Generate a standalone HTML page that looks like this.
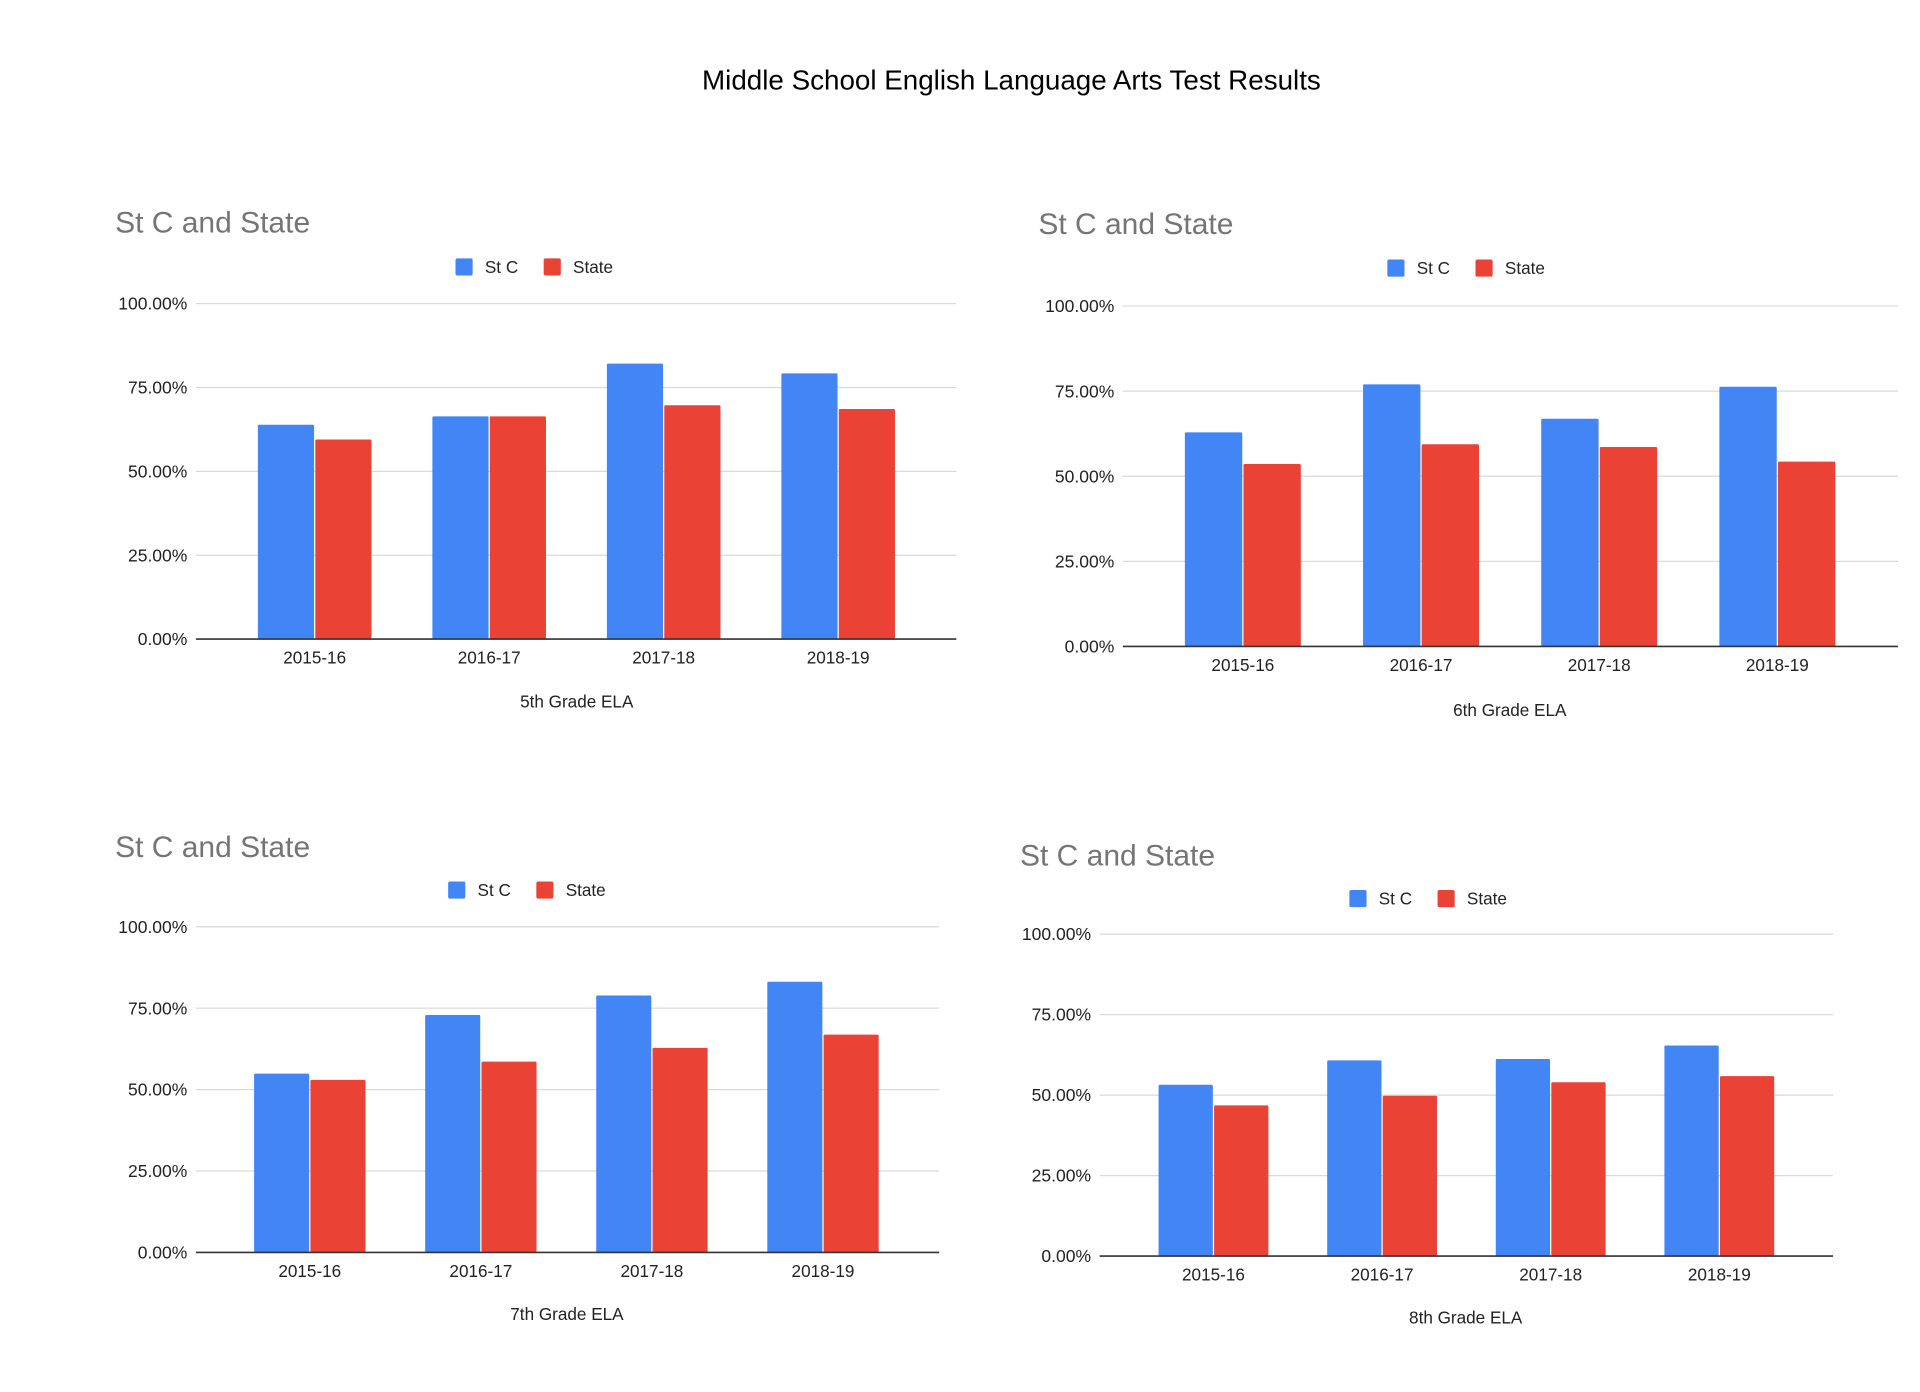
<!DOCTYPE html>
<html><head><meta charset="utf-8"><style>
html,body{margin:0;padding:0;background:#fff;width:1920px;height:1392px;overflow:hidden}
svg{display:block}
text{font-family:"Liberation Sans",Arial,sans-serif}
</style></head><body>
<svg id="root" width="1920" height="1392" viewBox="0 0 1568 1137" preserveAspectRatio="none" xmlns="http://www.w3.org/2000/svg">
<text x="826" y="73" text-anchor="middle" font-size="22.7" fill="#000">Middle School English Language Arts Test Results</text>
</svg>
<script>
const categories = ["2015-16","2016-17","2017-18","2018-19"];
const tickLabels = ["0.00%","25.00%","50.00%","75.00%","100.00%"];
const tickValues = [0,25,50,75,100];
const seriesNames = ["St C","State"];
const grade5StC = [63.9,66.4,82.1,79.2];
const grade5State = [59.5,66.4,69.7,68.6];
const grade6StC = [62.9,77.0,66.9,76.3];
const grade6State = [53.6,59.4,58.6,54.3];
const grade7StC = [54.9,72.9,78.9,83.1];
const grade7State = [53.0,58.6,62.8,66.9];
const grade8StC = [53.2,60.8,61.2,65.4];
const grade8State = [46.8,49.8,54.0,55.9];
const axisTitles = ["5th Grade ELA","6th Grade ELA","7th Grade ELA","8th Grade ELA"];

const layouts = [
 {tx:94,ty:190,ly:218,lx:372,x0:160,x1:781,yTop:248,yBot:522,c0:257,sp:142.5,at:471,aty:578},
 {tx:848,ty:191,ly:219,lx:1133,x0:917,x1:1550,yTop:250,yBot:528,c0:1015,sp:145.5,at:1233,aty:585},
 {tx:94,ty:700,ly:727,lx:366,x0:160,x1:767,yTop:757,yBot:1023,c0:253,sp:139.7,at:463,aty:1078},
 {tx:833,ty:707,ly:734,lx:1102,x0:898,x1:1497,yTop:763,yBot:1026,c0:991,sp:137.7,at:1197,aty:1081}
];
const allSeries = [[grade5StC,grade5State],[grade6StC,grade6State],[grade7StC,grade7State],[grade8StC,grade8State]];
const colors = ["#4285f4","#ea4335"];
const NS = "http://www.w3.org/2000/svg";
const root = document.getElementById('root');
function mk(tag, attrs, parent, txt){
  const e = document.createElementNS(NS, tag);
  for (const k in attrs) e.setAttribute(k, attrs[k]);
  if (txt !== undefined) e.textContent = txt;
  parent.appendChild(e); return e;
}
layouts.forEach((L, ci) => {
  const g = mk('g', {}, root);
  
  
  const yS = v => L.yBot - (v/100)*(L.yBot - L.yTop);
  const xS = i => L.c0 + i*L.sp;
  const t = mk('text', {x:L.tx, y:L.ty, 'font-size':24.5, fill:'#757575'}, g, 'St C and State');
  
  
  let lx = L.lx;
  seriesNames.forEach((n, si) => {
    const lg = mk('g', {}, g);
    
    
    mk('rect', {x:lx, y:L.ly-7, width:14, height:14, rx:1.5, fill:colors[si]}, lg);
    mk('text', {x:lx+24, y:L.ly+5, 'font-size':14, fill:'#222'}, lg, n);
    lx += si===0 ? 72 : 0;
  });
  tickValues.forEach((v, i) => {
    const y = yS(v);
    if (v !== 0) {
      const gl = mk('line', {x1:L.x0, x2:L.x1, y1:y, y2:y, stroke:'#d9d9d9', 'stroke-width':1}, g);
      
      
    }
    const tl = mk('text', {x:L.x0-7, y:y+5, 'font-size':14.3, fill:'#222', 'text-anchor':'end'}, g, tickLabels[i]);
    
    
  });
  const bw = L.sp*0.322;
  allSeries[ci].forEach((vals, si) => {
    vals.forEach((v, i) => {
      const x = si===0 ? xS(i) - bw - 0.5 : xS(i) + 0.5;
      const r = mk('rect', {x:x, y:yS(v), width:bw, height:yS(0)-yS(v), fill:colors[si], rx:1}, g);
      
      
    });
  });
  const ax = mk('line', {x1:L.x0, x2:L.x1, y1:L.yBot, y2:L.yBot, stroke:'#333', 'stroke-width':1.3}, g);
  
  
  categories.forEach((c, i) => {
    const xl = mk('text', {x:xS(i), y:L.yBot+20, 'font-size':14, fill:'#222', 'text-anchor':'middle'}, g, c);
    
    
  });
  const at = mk('text', {x:L.at, y:L.aty, 'font-size':14, fill:'#222', 'text-anchor':'middle'}, g, axisTitles[ci]);
  
  
});
</script>
</body></html>
